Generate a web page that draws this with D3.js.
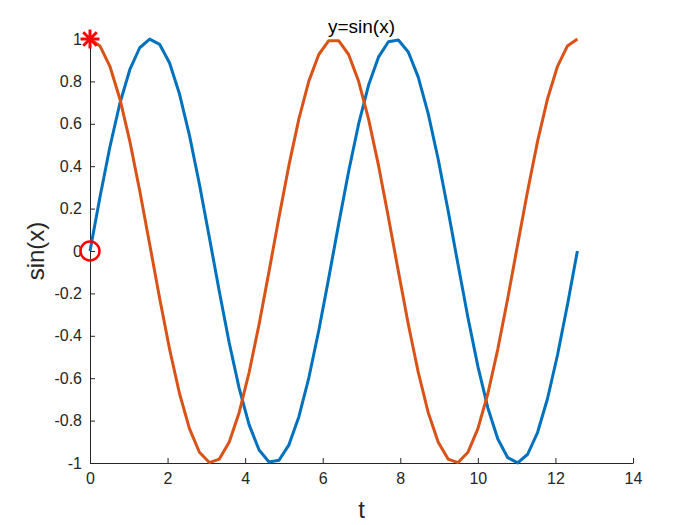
<!DOCTYPE html>
<html><head><meta charset="utf-8">
<script src="https://cdn.jsdelivr.net/npm/d3@7"></script>
<style>body{margin:0;background:#fff}svg{display:block}</style>
</head><body><div id="c"></div>
<script>
const tValues = [0,0.2565,0.5129,0.7694,1.0258,1.2823,1.5387,1.7952,2.0517,2.3081,2.5646,2.8210,3.0775,3.3340,3.5904,3.8469,4.1033,4.3598,4.6162,4.8727,5.1292,5.3856,5.6421,5.8985,6.1550,6.4114,6.6679,6.9244,7.1808,7.4373,7.6937,7.9502,8.2067,8.4631,8.7196,8.9760,9.2325,9.4889,9.7454,10.0019,10.2583,10.5148,10.7712,11.0277,11.2842,11.5406,11.7971,12.0535,12.3100,12.5664];
const sinValues = [0,0.2537,0.4907,0.6957,0.8551,0.9587,0.9995,0.9749,0.8866,0.7403,0.5455,0.3151,0.0641,-0.1912,-0.4339,-0.6482,-0.8204,-0.9385,-0.9954,-0.9872,-0.9144,-0.7818,-0.5981,-0.3752,-0.1279,0.1279,0.3752,0.5981,0.7818,0.9144,0.9872,0.9954,0.9385,0.8204,0.6482,0.4339,0.1912,-0.0641,-0.3151,-0.5455,-0.7403,-0.8866,-0.9749,-0.9995,-0.9587,-0.8551,-0.6957,-0.4907,-0.2537,0];
const cosValues = [1,0.9673,0.8713,0.7184,0.5184,0.2845,0.0321,-0.2225,-0.4625,-0.6723,-0.8381,-0.9491,-0.9979,-0.9816,-0.9010,-0.7615,-0.5719,-0.3454,-0.0960,0.1596,0.4048,0.6235,0.8014,0.9269,0.9918,0.9918,0.9269,0.8014,0.6235,0.4048,0.1596,-0.0960,-0.3454,-0.5719,-0.7615,-0.9010,-0.9816,-0.9979,-0.9491,-0.8381,-0.6723,-0.4625,-0.2225,0.0321,0.2845,0.5184,0.7184,0.8713,0.9673,1];
const xTicks = [0,2,4,6,8,10,12,14];
const yTicks = [-1,-0.8,-0.6,-0.4,-0.2,0,0.2,0.4,0.6,0.8,1];
const circlePoint = [0,0];
const starPoint = [0,1];

const W=700,H=525, L=90,R=633,T=39,B=463;
const svg=d3.select("#c").append("svg").attr("width",W).attr("height",H)
  .style("font-family","Helvetica, Arial, 'Liberation Sans', sans-serif");
const x=d3.scaleLinear().domain([0,14]).range([L,R]);
const y=d3.scaleLinear().domain([-1,1]).range([B,T]);
const axCol="#262626";

const xa=svg.append("g").attr("transform",`translate(0,${B})`)
  .call(d3.axisBottom(x).tickValues(xTicks).tickSizeInner(-5).tickSizeOuter(0).tickPadding(10).tickFormat(d3.format("d")));
const ya=svg.append("g").attr("transform",`translate(${L},0)`)
  .call(d3.axisLeft(y).tickValues(yTicks).tickSizeInner(-5).tickSizeOuter(0).tickPadding(8).tickFormat(d=>String(d)));
[xa,ya].forEach(a=>{
  a.select(".domain").attr("stroke",axCol).attr("stroke-width",1);
  a.selectAll(".tick line").attr("stroke",axCol);
  a.selectAll(".tick text").attr("fill",axCol).style("font-size","16px");
});

const line=(ys)=>d3.line().x((d,i)=>x(tValues[i])).y(d=>y(d))(ys);
svg.append("path").attr("d",line(sinValues)).attr("fill","none").attr("stroke","#0072BD").attr("stroke-width",3).attr("stroke-linejoin","round");
svg.append("path").attr("d",line(cosValues)).attr("fill","none").attr("stroke","#D95319").attr("stroke-width",3).attr("stroke-linejoin","round");

svg.append("circle").attr("cx",x(circlePoint[0])).attr("cy",y(circlePoint[1])).attr("r",9.5)
  .attr("fill","none").attr("stroke","#FF0000").attr("stroke-width",2.5);
const sx=x(starPoint[0]), sy=y(starPoint[1]), s=9.5;
const star=svg.append("g").attr("stroke","#FF0000").attr("stroke-width",3);
[[s,0],[0,s],[s*0.71,s*0.71],[s*0.71,-s*0.71]].forEach(([dx,dy])=>{
  star.append("line").attr("x1",sx-dx).attr("y1",sy-dy).attr("x2",sx+dx).attr("y2",sy+dy);
});

svg.append("text").attr("x",(L+R)/2).attr("y",33).attr("text-anchor","middle")
  .attr("fill","#000").style("font-size","19px").text("y=sin(x)");
svg.append("text").attr("x",(L+R)/2).attr("y",518).attr("text-anchor","middle")
  .attr("fill",axCol).style("font-size","24px").text("t");
svg.append("text").attr("transform",`translate(44,${(T+B)/2}) rotate(-90)`).attr("text-anchor","middle")
  .attr("fill",axCol).style("font-size","24px").text("sin(x)");
</script></body></html>
